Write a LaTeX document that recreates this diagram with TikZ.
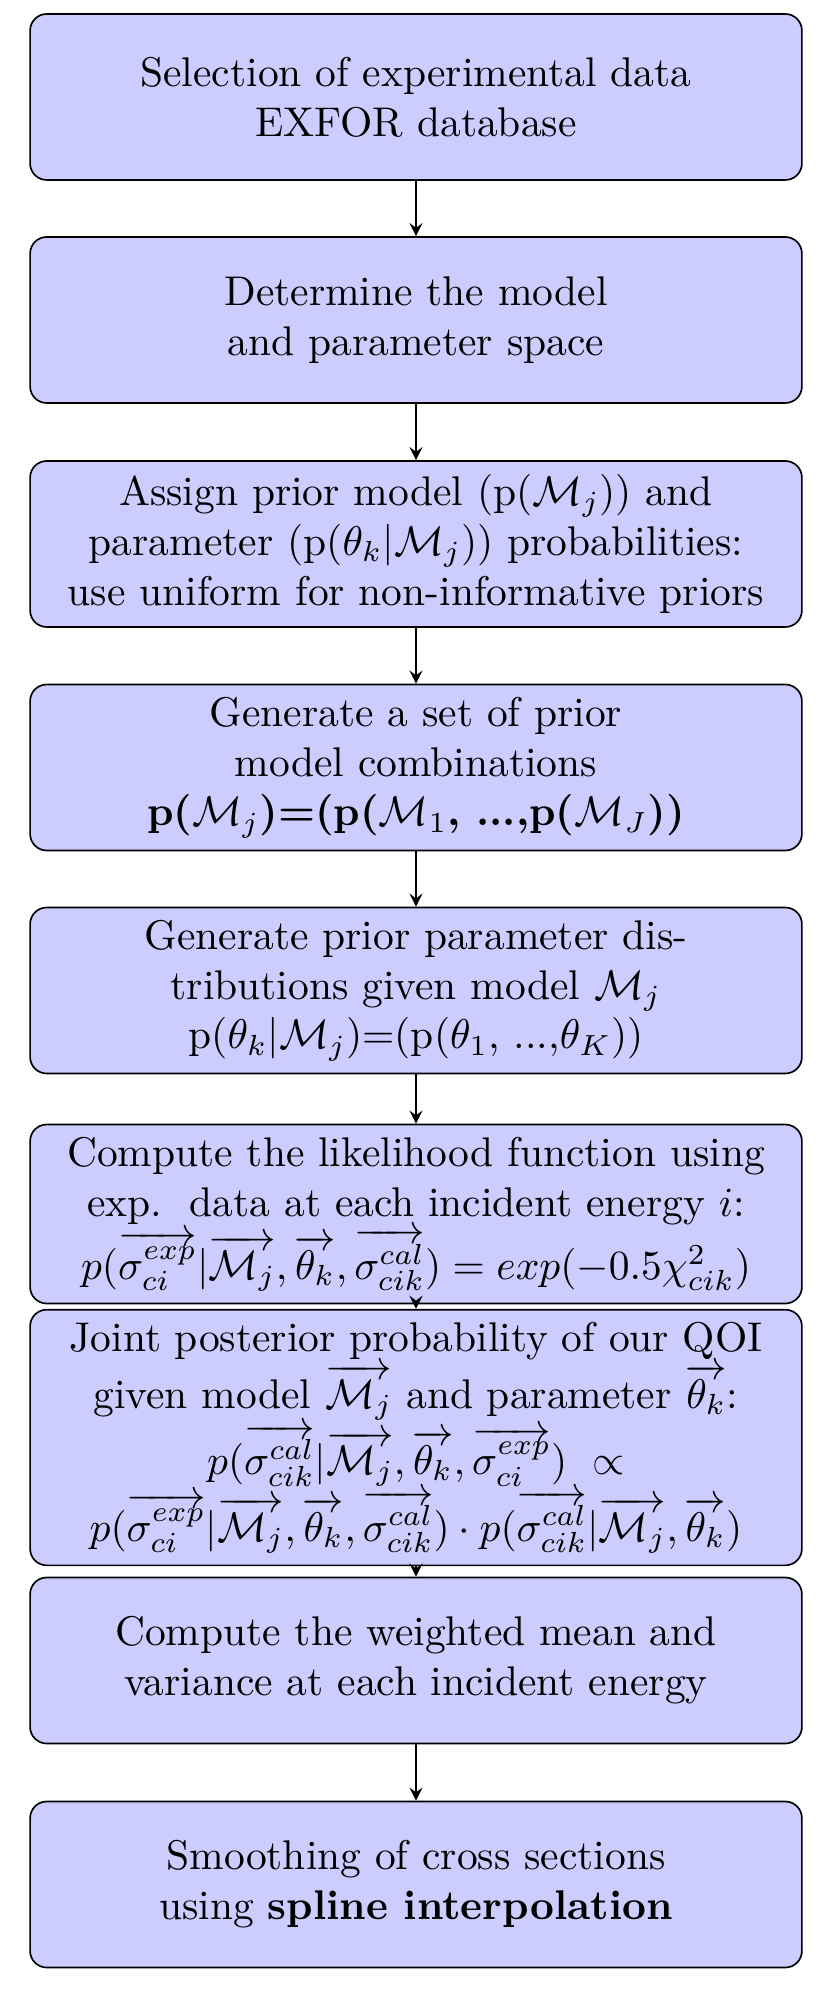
\documentclass[tikz,border=0pt]{standalone}
\usepackage{amsmath,amssymb}
\begin{document}
\begin{tikzpicture}[x=0.241pt,y=-0.241pt,
  stepbox/.style={draw, fill=blue!20, rounded corners=4pt, align=center,
    minimum width=186pt, minimum height=40pt, inner sep=3pt},
  flow/.style={-stealth}]
\useasboundingbox (0,0) rectangle (838,1997);
\node[stepbox] (b1) at (416,97) {Selection of experimental data\\EXFOR database};
\node[stepbox] (b2) at (416,320) {Determine the model\\and parameter space};
\node[stepbox] (b3) at (416,544) {Assign prior model (p($\mathcal{M}_j$)) and\\parameter (p($\theta_k|\mathcal{M}_j$)) probabilities:\\use uniform for non-informative priors};
\node[stepbox] (b4) at (416,767.5) {Generate a set of prior\\model combinations\\\textbf{p($\mathcal{M}_j$)=(p($\mathcal{M}_1$, ...,p($\mathcal{M}_J$))}};
\node[stepbox] (b5) at (416,990.5) {Generate prior parameter dis-\\tributions given model $\mathcal{M}_j$\\p($\theta_k|\mathcal{M}_j$)=(p($\theta_1$, ...,$\theta_K$))};
\node[stepbox] (b6) at (416,1214) {Compute the likelihood function using\\exp.\ \ data at each incident energy $i$:\\$p(\overrightarrow{\sigma_{ci}^{exp}}|\overrightarrow{\mathcal{M}_j},\overrightarrow{\theta_k},\overrightarrow{\sigma_{cik}^{cal}}) = exp(-0.5\chi^2_{cik})$};
\node[stepbox] (b7) at (416,1437.5) {Joint posterior probability of our QOI\\given model $\overrightarrow{\mathcal{M}_j}$ and parameter $\overrightarrow{\theta_k}$:\\$p(\overrightarrow{\sigma_{cik}^{cal}}|\overrightarrow{\mathcal{M}_j},\overrightarrow{\theta_k},\overrightarrow{\sigma_{ci}^{exp}})\ \propto$\\$p(\overrightarrow{\sigma_{ci}^{exp}}|\overrightarrow{\mathcal{M}_j},\overrightarrow{\theta_k},\overrightarrow{\sigma_{cik}^{cal}})\cdot p(\overrightarrow{\sigma_{cik}^{cal}}|\overrightarrow{\mathcal{M}_j},\overrightarrow{\theta_k})$};
\node[stepbox] (b8) at (416,1660.5) {Compute the weighted mean and\\variance at each incident energy};
\node[stepbox] (b9) at (416,1884.5) {Smoothing of cross sections\\using \textbf{spline interpolation}};
\foreach \a/\b in {b1/b2,b2/b3,b3/b4,b4/b5,b5/b6,b6/b7,b7/b8,b8/b9}
  \draw[flow] (\a) -- (\b);
\end{tikzpicture}
\end{document}
